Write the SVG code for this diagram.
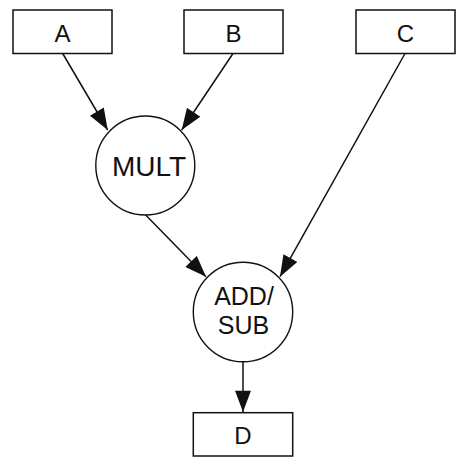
<svg xmlns="http://www.w3.org/2000/svg" width="474" height="470" viewBox="0 0 474 470">
<style>
.box{fill:#fff;stroke:#111;stroke-width:1.5}
.node{fill:#fff;stroke:#111;stroke-width:1.4}
.lbl{font-family:"Liberation Sans",Arial,sans-serif;fill:#111;text-anchor:middle}
.edge{stroke:#111;stroke-width:1.5;fill:none;marker-end:url(#arr)}
</style>
<defs>
<marker id="arr" markerUnits="userSpaceOnUse" markerWidth="22" markerHeight="16" refX="20" refY="7.5" orient="auto" viewBox="0 0 20 15">
<path d="M0,0 L20,7.5 L0,15 Z" fill="#111"/>
</marker>
</defs>
<rect width="474" height="470" fill="#fff"/>
<g id="connectors">
<line class="edge" x1="62.7" y1="53.5" x2="107.7" y2="130"/>
<line class="edge" x1="233" y1="53.5" x2="181.7" y2="130"/>
<line class="edge" x1="145.7" y1="215" x2="206" y2="276.7"/>
<line class="edge" x1="405" y1="53.5" x2="280" y2="276.7"/>
<line class="edge" x1="243" y1="362" x2="243" y2="412"/>
</g>
<g id="A">
<rect class="box" x="13" y="10" width="99" height="43.5"/>
<text class="lbl" x="62.5" y="41.7" font-size="24">A</text>
</g>
<g id="B">
<rect class="box" x="184" y="10" width="99" height="43.5"/>
<text class="lbl" x="233.5" y="41.7" font-size="24">B</text>
</g>
<g id="C">
<rect class="box" x="356" y="10" width="99" height="43.5"/>
<text class="lbl" x="405.5" y="41.7" font-size="24">C</text>
</g>
<g id="MULT">
<circle class="node" cx="145.3" cy="165.5" r="49.5"/>
<text class="lbl" x="149" y="175.7" font-size="28">MULT</text>
</g>
<g id="ADDSUB">
<circle class="node" cx="243" cy="312" r="49.7"/>
<text class="lbl" x="244" y="305" font-size="25">ADD/</text>
<text class="lbl" x="243.5" y="334" font-size="25">SUB</text>
</g>
<g id="D">
<rect class="box" x="193.3" y="412.7" width="99.4" height="43.3"/>
<text class="lbl" x="243" y="444.3" font-size="24">D</text>
</g>
</svg>
